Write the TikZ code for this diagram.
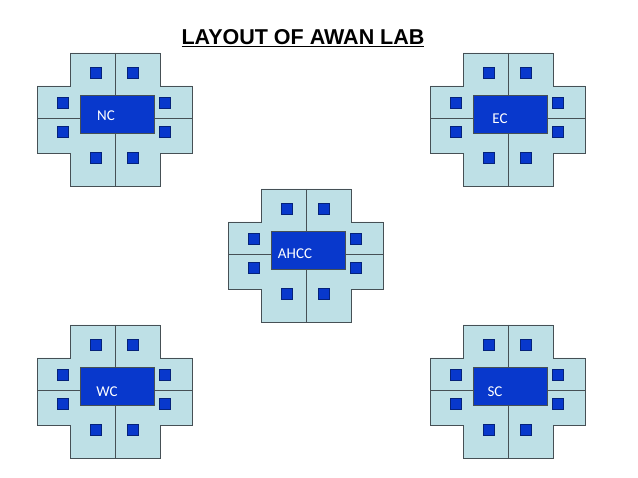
\documentclass[tikz,border=0pt]{standalone}
\usepackage{fontspec}
\setmainfont{Liberation Sans}
\newfontfamily\carlitofont{Carlito}
\definecolor{lite}{RGB}{190,224,230}
\definecolor{dblue}{RGB}{8,56,204}
\definecolor{edge}{RGB}{70,80,85}
\tikzset{desk/.style={fill=lite,draw=edge,line width=0.7pt},
 sq/.style={fill=dblue,draw=dblue!60!black,line width=0.5pt,minimum size=11pt,inner sep=0pt},
 ctr/.style={fill=dblue,draw=edge,line width=0.7pt,minimum width=74pt,minimum height=38pt,inner sep=0pt},
 lbl/.style={text=white,font=\carlitofont\fontsize{15}{17}\selectfont}}
\newcommand\labcluster[5]{%
 \begin{scope}[shift={(#1,#2)}]
 \draw[desk] (-45,-66) -- (45,-66) -- (45,-33) -- (77,-33) -- (77,34) -- (45,34) -- (45,67) -- (-45,67) -- (-45,34) -- (-78,34) -- (-78,-33) -- (-45,-33) -- cycle;
 \draw[edge,line width=0.7pt] (0,-66) -- (0,67) (-78,-1) -- (77,-1);
 \node[ctr] (#3) at (2,-5) {};
 \foreach \p/\q in {-19/-46,18/-46,-52/-16,-52/13,50/-16,50/13,-19/39,18/39}
   \node[sq] at (\p,\q) {};
 \node[lbl] at (#4,#5) {#3};
 \end{scope}}
\begin{document}
\begin{tikzpicture}[x=1pt,y=-1pt]
\useasboundingbox (0,0) rectangle (638,478);
\node[font=\bfseries\fontsize{21.5}{24}\selectfont] (title) at (303,38) {\underline{LAYOUT OF AWAN LAB}};
\labcluster{115}{119}{NC}{-9}{-3}
\labcluster{508}{119}{EC}{-8}{0}
\labcluster{306}{255}{AHCC}{-11}{-1}
\labcluster{115}{391}{WC}{-8}{1}
\labcluster{508}{391}{SC}{-13}{1}
\end{tikzpicture}
\end{document}
